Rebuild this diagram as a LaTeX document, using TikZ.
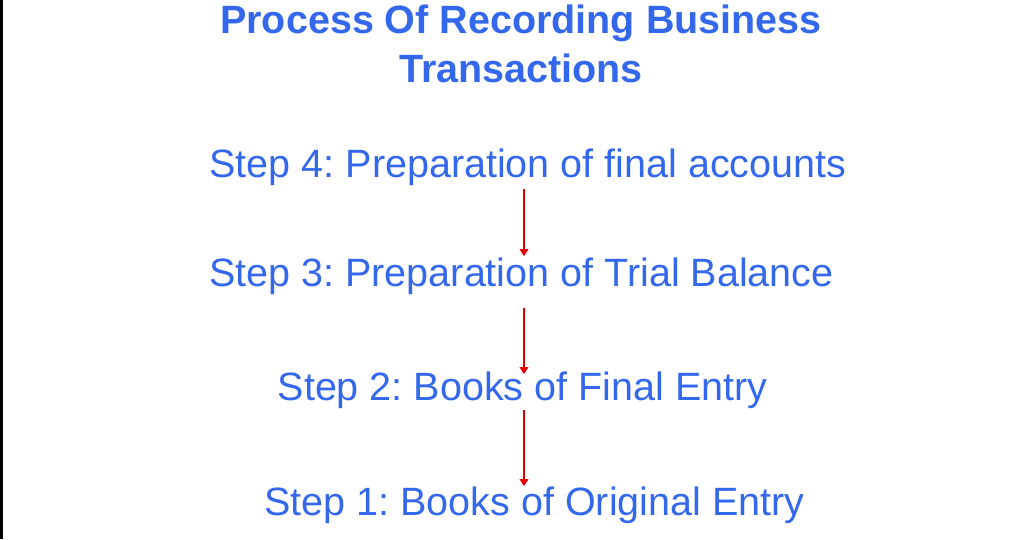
\documentclass[tikz,border=0pt]{standalone}
\usepackage{fontspec}
\setmainfont{Liberation Sans}
\usepackage{xcolor}
\usetikzlibrary{arrows.meta}
\definecolor{stepblue}{RGB}{52,104,236}
\definecolor{arrowred}{RGB}{230,0,0}
\frenchspacing
\tikzset{
    tnode/.style = {align=center, inner sep=0pt, text centered},
    title_node/.style = {tnode, anchor=base, text=stepblue, font=\fontsize{39.5}{49}\selectfont\bfseries},
    step_node/.style = {tnode, anchor=base, text=stepblue, font=\fontsize{39.5}{47}\selectfont},
    flow/.style = {-{Triangle[width=8.5pt, length=7pt]}, draw=arrowred, line width=2.2pt}
}
\begin{document}
\begin{tikzpicture}[x=1pt, y=-1pt]
            \useasboundingbox (0,0) rectangle (1027,539);
            \fill[black] (0,0) rectangle (3,539);

            % base of a two-line node is its last line
            \node [title_node] (title) at (521,82) {Process Of Recording Business\\Transactions};

            \node [step_node] (s4) at (528,177) {Step 4: Preparation of final accounts};
            \node [step_node] (s3) at (521.5,286) {Step 3: Preparation of Trial Balance};
            \node [step_node] (s2) at (522.5,400) {Step 2: Books of Final Entry};
            \node [step_node] (s1) at (534.5,515) {Step 1: Books of Original Entry};

            \coordinate (axis) at (524,0);
            \foreach \from/\to/\gapa/\gapb in {s4/s3/4/1, s3/s2/14/-3, s2/s1/2/0}
                \draw [flow] ([yshift=-\gapa pt]\from.south -| axis) -- ([yshift=\gapb pt]\to.north -| axis);
\end{tikzpicture}
\end{document}
